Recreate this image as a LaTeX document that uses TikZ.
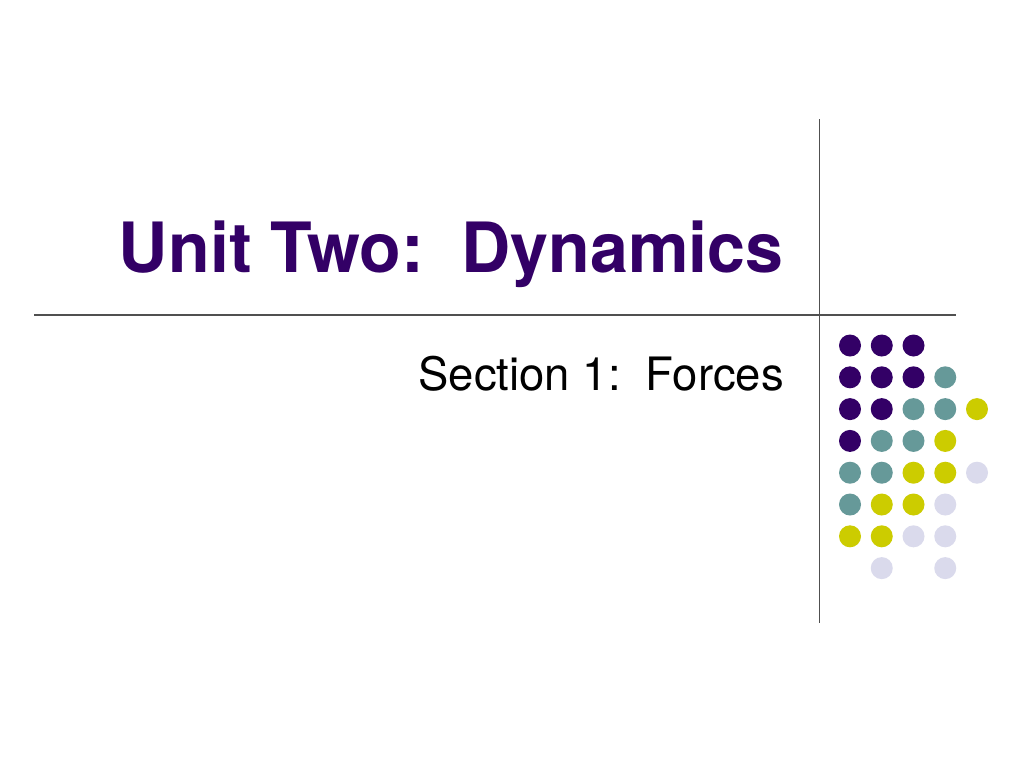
\documentclass[tikz,border=0pt]{standalone}
\usepackage{fontspec}
\setmainfont{TeX Gyre Heros}
\definecolor{tpurple}{RGB}{51,0,102}
\definecolor{tteal}{RGB}{102,153,153}
\definecolor{tyellow}{RGB}{204,204,0}
\definecolor{tlav}{RGB}{218,218,236}
\definecolor{tline}{RGB}{80,80,80}
\tikzset{
  dot/.style={circle,inner sep=0pt,minimum size=16.5pt,draw=none,fill=#1},
  rule/.style={draw=tline,line width=1.2pt},
}
\begin{document}
\begin{tikzpicture}[x=0.75pt,y=-0.75pt]
\useasboundingbox (0,0) rectangle (1024,768);
\fill[white] (0,0) rectangle (1024,768);
\coordinate (vtop) at (819.3,119);
\coordinate (vbot) at (819.3,622.5);
\coordinate (hl) at (34,315);
\coordinate (hr) at (955.5,315);
\draw[rule] (vtop) -- (vbot);
\draw[rule] (hl) -- (hr);
\node[anchor=base east,inner sep=0pt,text=tpurple,font=\fontsize{52pt}{60pt}\selectfont\bfseries] (title) at (784,272) {\scalebox{0.983}[1]{Unit Two:\ \ Dynamics}};
\node[anchor=base east,inner sep=0pt,text=black,font=\fontsize{34.5pt}{40pt}\selectfont] (sub) at (784,390) {\scalebox{0.988}[1]{Section 1:\ \ Forces}};
\foreach \c/\r/\col in {
 1/1/tpurple,2/1/tpurple,3/1/tpurple,
 1/2/tpurple,2/2/tpurple,3/2/tpurple,4/2/tteal,
 1/3/tpurple,2/3/tpurple,3/3/tteal,4/3/tteal,5/3/tyellow,
 1/4/tpurple,2/4/tteal,3/4/tteal,4/4/tyellow,
 1/5/tteal,2/5/tteal,3/5/tyellow,4/5/tyellow,5/5/tlav,
 1/6/tteal,2/6/tyellow,3/6/tyellow,4/6/tlav,
 1/7/tyellow,2/7/tyellow,3/7/tlav,4/7/tlav,
 2/8/tlav,4/8/tlav}
 \node[dot=\col] (d\c-\r) at ({850+31.75*(\c-1)},{345.5+31.8*(\r-1)}) {};
\end{tikzpicture}
\end{document}
